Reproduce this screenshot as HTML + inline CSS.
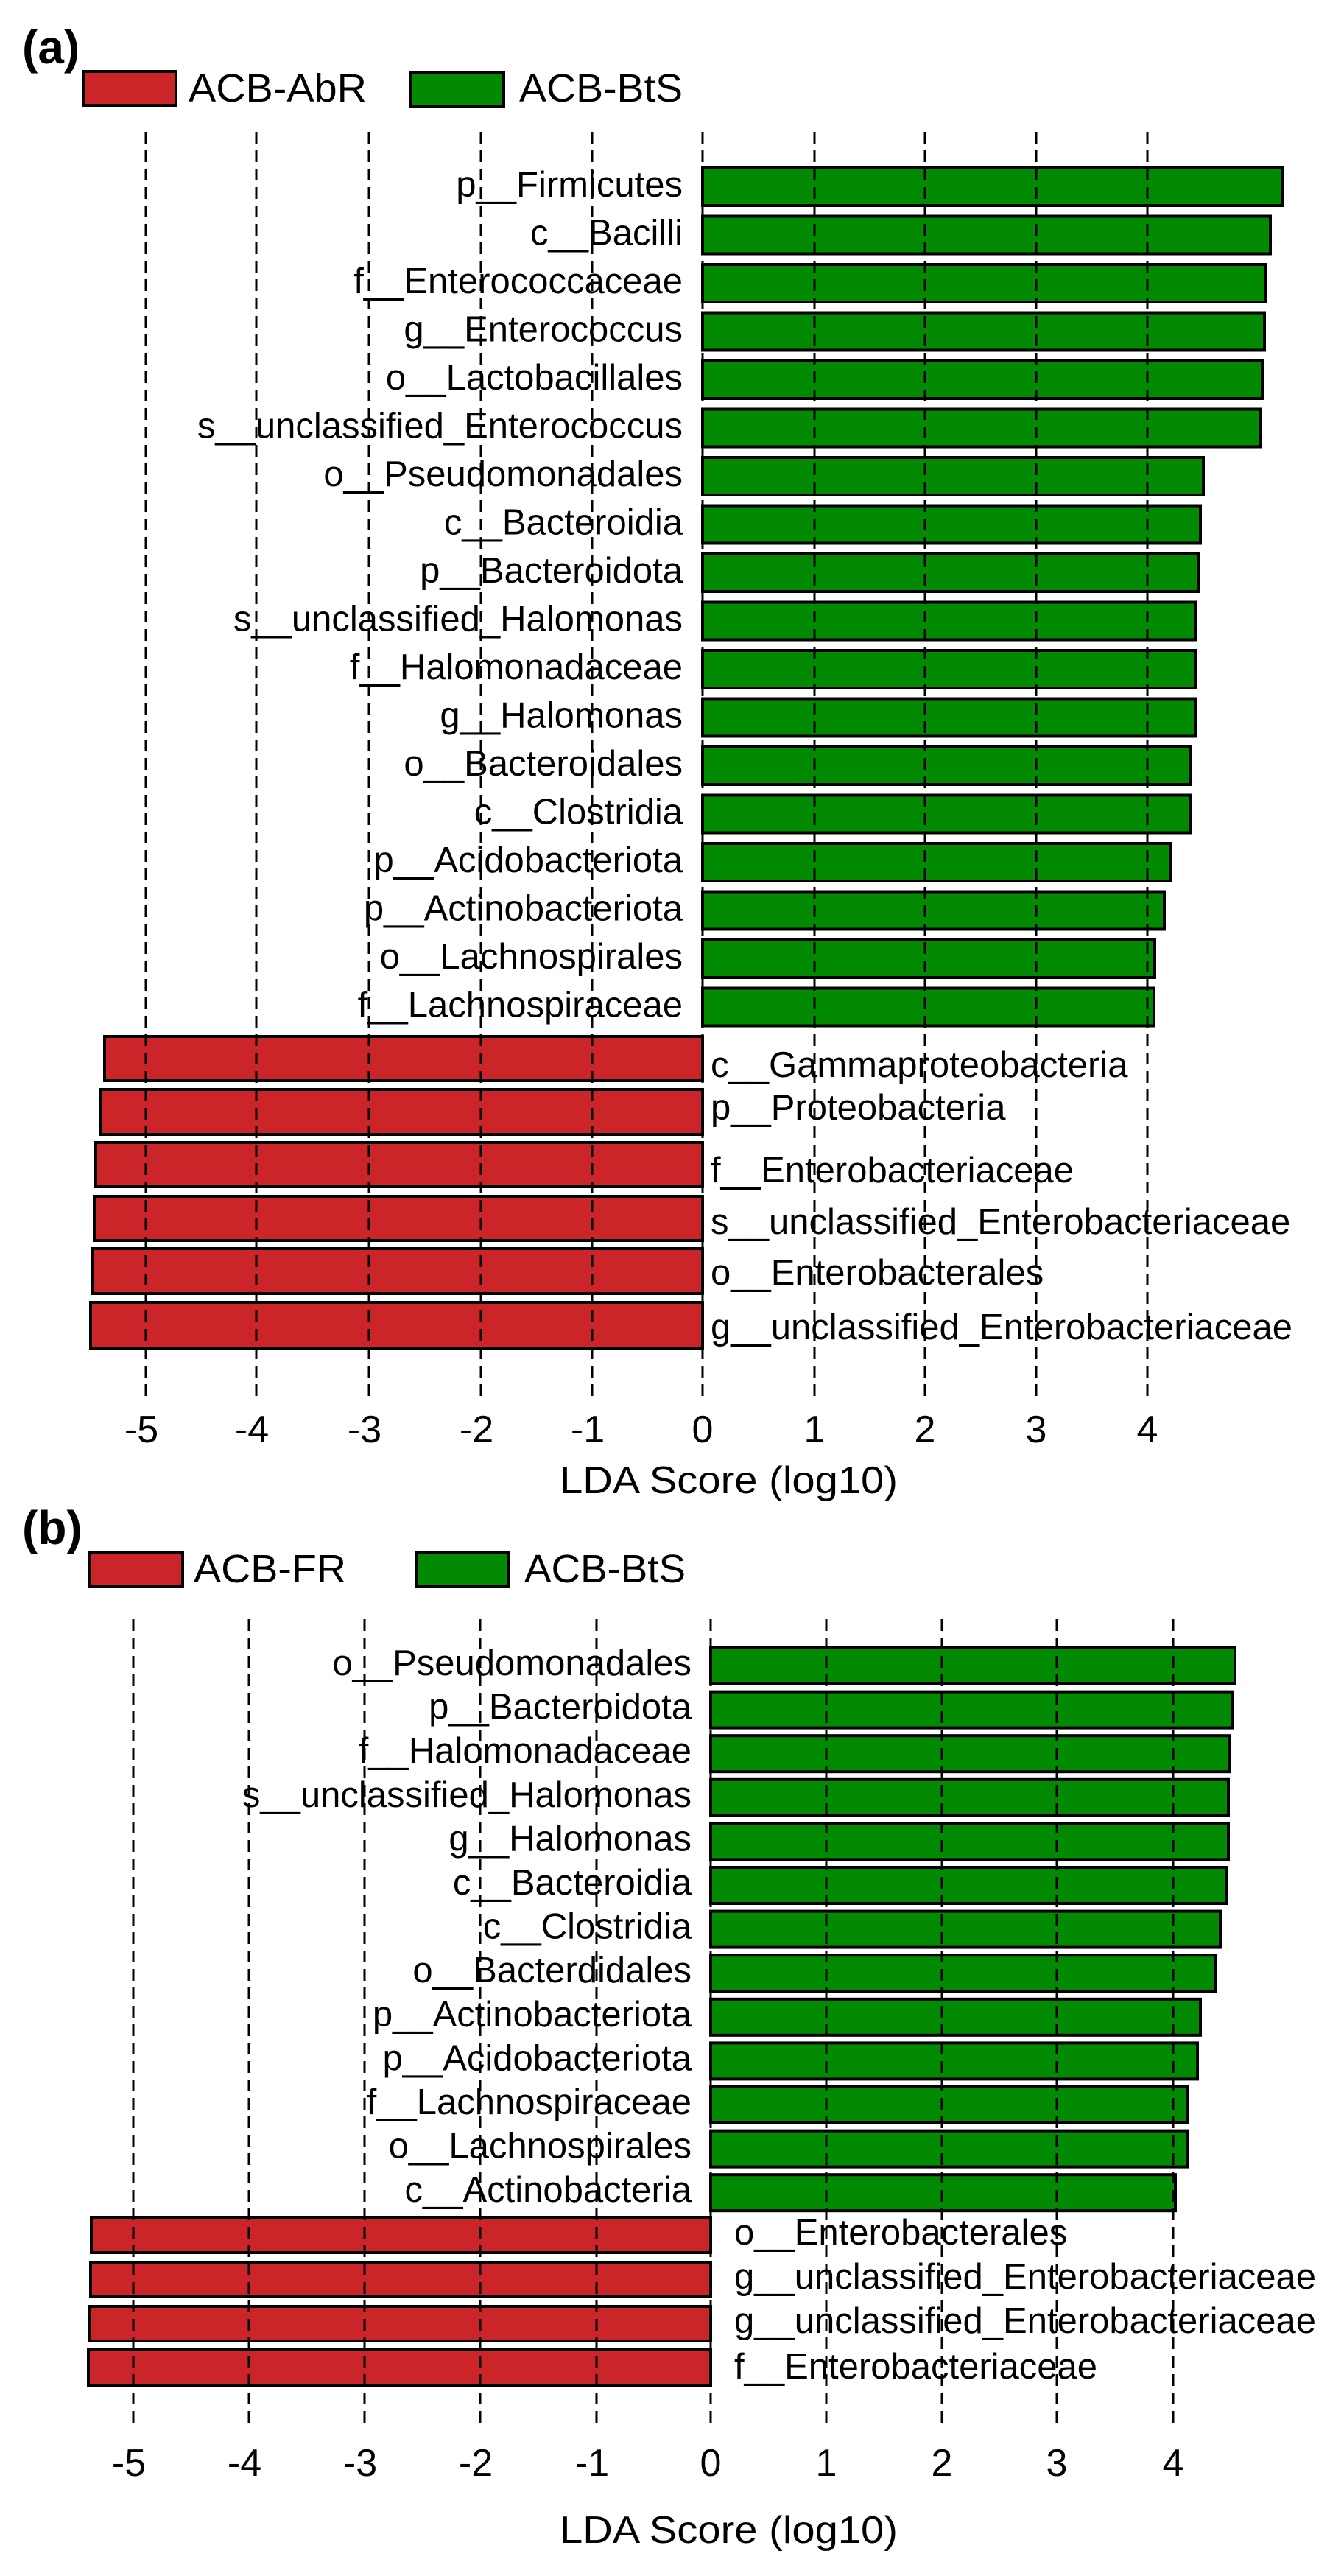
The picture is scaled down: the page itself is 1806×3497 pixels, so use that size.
<!DOCTYPE html>
<html><head><meta charset="utf-8"><style>body{margin:0;background:#fff}svg{display:block}</style></head>
<body>
<svg width="1806" height="3497" viewBox="0 0 1806 3497" xmlns="http://www.w3.org/2000/svg" font-family="Liberation Sans, Arial, sans-serif">
<rect width="1806" height="3497" fill="#fff"/>
<!-- Panel a -->
<text x="30" y="86" font-size="64" font-weight="bold">(a)</text>
<rect x="113" y="97" width="126" height="46" fill="#cc2529" stroke="#000" stroke-width="4"/>
<text x="256" y="138" font-size="54" textLength="242" lengthAdjust="spacingAndGlyphs">ACB-AbR</text>
<rect x="557" y="99" width="127" height="46" fill="#038a03" stroke="#000" stroke-width="4"/>
<text x="705" y="138" font-size="54" textLength="222" lengthAdjust="spacingAndGlyphs">ACB-BtS</text>
<g fill="#038a03" stroke="#000" stroke-width="4">
<rect x="954" y="228" width="788" height="51"/>
<rect x="954" y="293.5" width="771" height="51"/>
<rect x="954" y="359" width="765" height="51"/>
<rect x="954" y="424.5" width="763" height="51"/>
<rect x="954" y="490" width="760" height="51"/>
<rect x="954" y="555.5" width="758" height="51"/>
<rect x="954" y="621" width="680" height="51"/>
<rect x="954" y="686.5" width="676" height="51"/>
<rect x="954" y="752" width="674" height="51"/>
<rect x="954" y="817.5" width="669" height="51"/>
<rect x="954" y="883" width="669" height="51"/>
<rect x="954" y="948.5" width="669" height="51"/>
<rect x="954" y="1014" width="663" height="51"/>
<rect x="954" y="1079.5" width="663" height="51"/>
<rect x="954" y="1145" width="636" height="51"/>
<rect x="954" y="1210.5" width="627" height="51"/>
<rect x="954" y="1276" width="614" height="51"/>
<rect x="954" y="1341.5" width="613" height="51"/>
</g>
<g fill="#cc2529" stroke="#000" stroke-width="4">
<rect x="142" y="1407" width="812" height="60"/>
<rect x="137" y="1479" width="817" height="61"/>
<rect x="130" y="1551" width="824" height="60"/>
<rect x="128" y="1624" width="826" height="60"/>
<rect x="126" y="1695" width="828" height="61"/>
<rect x="123" y="1768" width="831" height="62"/>
</g>
<g stroke="#000" stroke-width="3" stroke-dasharray="16,9">
<line x1="198" y1="179" x2="198" y2="1897"/><line x1="348" y1="179" x2="348" y2="1897"/>
<line x1="501" y1="179" x2="501" y2="1897"/><line x1="653" y1="179" x2="653" y2="1897"/>
<line x1="804" y1="179" x2="804" y2="1897"/><line x1="954" y1="179" x2="954" y2="1897"/>
<line x1="1106" y1="179" x2="1106" y2="1897"/><line x1="1256" y1="179" x2="1256" y2="1897"/>
<line x1="1407" y1="179" x2="1407" y2="1897"/><line x1="1558" y1="179" x2="1558" y2="1897"/>
</g>
<g font-size="49" text-anchor="end">
<text x="927" y="267">p__Firmicutes</text>
<text x="927" y="332.5">c__Bacilli</text>
<text x="927" y="398">f__Enterococcaceae</text>
<text x="927" y="463.5">g__Enterococcus</text>
<text x="927" y="529">o__Lactobacillales</text>
<text x="927" y="594.5">s__unclassified_Enterococcus</text>
<text x="927" y="660">o__Pseudomonadales</text>
<text x="927" y="725.5">c__Bacteroidia</text>
<text x="927" y="791">p__Bacteroidota</text>
<text x="927" y="856.5">s__unclassified_Halomonas</text>
<text x="927" y="922">f__Halomonadaceae</text>
<text x="927" y="987.5">g__Halomonas</text>
<text x="927" y="1053">o__Bacteroidales</text>
<text x="927" y="1118.5">c__Clostridia</text>
<text x="927" y="1184">p__Acidobacteriota</text>
<text x="927" y="1249.5">p__Actinobacteriota</text>
<text x="927" y="1315">o__Lachnospirales</text>
<text x="927" y="1380.5">f__Lachnospiraceae</text>
</g>
<g font-size="49">
<text x="965" y="1462">c__Gammaproteobacteria</text>
<text x="965" y="1520">p__Proteobacteria</text>
<text x="965" y="1605">f__Enterobacteriaceae</text>
<text x="965" y="1675">s__unclassified_Enterobacteriaceae</text>
<text x="965" y="1744">o__Enterobacterales</text>
<text x="965" y="1818">g__unclassified_Enterobacteriaceae</text>
</g>
<g font-size="52" text-anchor="middle">
<text x="192" y="1958">-5</text><text x="342" y="1958">-4</text><text x="495" y="1958">-3</text>
<text x="647" y="1958">-2</text><text x="798" y="1958">-1</text><text x="954" y="1958">0</text>
<text x="1106" y="1958">1</text><text x="1256" y="1958">2</text><text x="1407" y="1958">3</text>
<text x="1558" y="1958">4</text>
</g>
<text x="760" y="2027" font-size="52" textLength="459" lengthAdjust="spacingAndGlyphs">LDA Score (log10)</text>

<!-- Panel b -->
<text x="30" y="2096" font-size="64" font-weight="bold">(b)</text>
<rect x="122" y="2108" width="126" height="46" fill="#cc2529" stroke="#000" stroke-width="4"/>
<text x="263" y="2148" font-size="54" textLength="207" lengthAdjust="spacingAndGlyphs">ACB-FR</text>
<rect x="565" y="2108" width="126" height="46" fill="#038a03" stroke="#000" stroke-width="4"/>
<text x="712" y="2148" font-size="54" textLength="219" lengthAdjust="spacingAndGlyphs">ACB-BtS</text>
<g fill="#038a03" stroke="#000" stroke-width="4">
<rect x="965" y="2237" width="712" height="49"/>
<rect x="965" y="2296.6" width="709" height="49"/>
<rect x="965" y="2356.2" width="704" height="49"/>
<rect x="965" y="2415.8" width="703" height="49"/>
<rect x="965" y="2475.4" width="703" height="49"/>
<rect x="965" y="2535" width="701" height="49"/>
<rect x="965" y="2594.6" width="692" height="49"/>
<rect x="965" y="2654.2" width="685" height="49"/>
<rect x="965" y="2713.8" width="665" height="49"/>
<rect x="965" y="2773.4" width="661" height="49"/>
<rect x="965" y="2833" width="647" height="49"/>
<rect x="965" y="2892.6" width="647" height="49"/>
<rect x="965" y="2952.2" width="631" height="49"/>
</g>
<g fill="#cc2529" stroke="#000" stroke-width="4">
<rect x="124" y="3010" width="841" height="48"/>
<rect x="123" y="3071" width="842" height="47"/>
<rect x="122" y="3131" width="843" height="47"/>
<rect x="120" y="3190" width="845" height="48"/>
</g>
<g stroke="#000" stroke-width="3" stroke-dasharray="16,9">
<line x1="181" y1="2198" x2="181" y2="3297"/><line x1="338" y1="2198" x2="338" y2="3297"/>
<line x1="495" y1="2198" x2="495" y2="3297"/><line x1="652" y1="2198" x2="652" y2="3297"/>
<line x1="810" y1="2198" x2="810" y2="3297"/><line x1="965" y1="2198" x2="965" y2="3297"/>
<line x1="1122" y1="2198" x2="1122" y2="3297"/><line x1="1279" y1="2198" x2="1279" y2="3297"/>
<line x1="1435" y1="2198" x2="1435" y2="3297"/><line x1="1593" y1="2198" x2="1593" y2="3297"/>
</g>
<g font-size="49" text-anchor="end">
<text x="939" y="2274">o__Pseudomonadales</text>
<text x="939" y="2333.6">p__Bacteroidota</text>
<text x="939" y="2393.2">f__Halomonadaceae</text>
<text x="939" y="2452.8">s__unclassified_Halomonas</text>
<text x="939" y="2512.4">g__Halomonas</text>
<text x="939" y="2572">c__Bacteroidia</text>
<text x="939" y="2631.6">c__Clostridia</text>
<text x="939" y="2691.2">o__Bacterdidales</text>
<text x="939" y="2750.8">p__Actinobacteriota</text>
<text x="939" y="2810.4">p__Acidobacteriota</text>
<text x="939" y="2870">f__Lachnospiraceae</text>
<text x="939" y="2929.6">o__Lachnospirales</text>
<text x="939" y="2989.2">c__Actinobacteria</text>
</g>
<g font-size="49">
<text x="997" y="3047">o__Enterobacterales</text>
<text x="997" y="3107">g__unclassified_Enterobacteriaceae</text>
<text x="997" y="3167">g__unclassified_Enterobacteriaceae</text>
<text x="997" y="3229">f__Enterobacteriaceae</text>
</g>
<g font-size="52" text-anchor="middle">
<text x="175" y="3361">-5</text><text x="332" y="3361">-4</text><text x="489" y="3361">-3</text>
<text x="646" y="3361">-2</text><text x="804" y="3361">-1</text><text x="965" y="3361">0</text>
<text x="1122" y="3361">1</text><text x="1279" y="3361">2</text><text x="1435" y="3361">3</text>
<text x="1593" y="3361">4</text>
</g>
<text x="760" y="3452" font-size="52" textLength="459" lengthAdjust="spacingAndGlyphs">LDA Score (log10)</text>
</svg>
</body></html>
